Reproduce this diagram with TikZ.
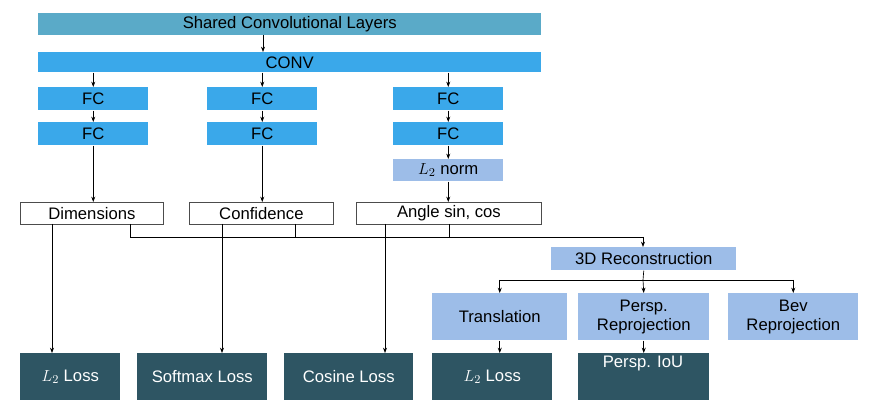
\documentclass[tikz,border=0pt]{standalone}
\usepackage{fontspec}
\setmainfont{Liberation Sans}
\usetikzlibrary{arrows.meta}
\definecolor{top}{HTML}{5AAAC8}
\definecolor{conv}{HTML}{3AA8EA}
\definecolor{lb}{HTML}{9DBDE8}
\definecolor{dk}{HTML}{2E5563}
\begin{document}
\begin{tikzpicture}[x=0.75pt,y=-0.75pt,
  bx/.style={draw=none,inner sep=0pt,font=\fontsize{12.5}{14}\selectfont,align=center},
  fc/.style={bx,fill=conv},
  wb/.style={bx,fill=white,draw=black!70,line width=0.6pt},
  lbx/.style={bx,fill=lb},
  dkb/.style={bx,fill=dk,text=white},
  ar/.style={-{Stealth[length=4pt,width=3pt]},line width=0.5pt},
  ln/.style={line width=0.5pt}]
\useasboundingbox (0,0) rectangle (875,420);
\fill[white] (0,0) rectangle (875,420);
\newcommand{\bx}[6]{\node[#1,minimum width=#4*0.75pt,minimum height=#5*0.75pt,anchor=north west] (#2) at (#3) {#6};}
\bx{bx,fill=top}{sh}{38,13}{503}{22}{Shared Convolutional Layers}
\bx{fc}{conv}{38,52}{503}{20}{CONV}
\bx{fc}{a1}{38,87}{110}{23}{FC}
\bx{fc}{a2}{38,122}{110}{23}{FC}
\bx{fc}{b1}{207,87}{110}{23}{FC}
\bx{fc}{b2}{207,122}{110}{23}{FC}
\bx{fc}{c1}{393,87}{110}{23}{FC}
\bx{fc}{c2}{393,122}{110}{23}{FC}
\bx{lbx}{nrm}{393,159}{110}{22}{$L_2$ norm}
\bx{wb}{dim}{20,202}{143}{22}{Dimensions}
\bx{wb}{conf}{189,202}{144}{22}{Confidence}
\bx{wb}{ang}{356,202}{185}{22}{Angle sin, cos}
\bx{lbx}{rec}{551,247}{185}{23}{3D Reconstruction}
\bx{lbx}{tr}{432,293}{135}{47}{Translation}
\bx{lbx}{pr}{578,293}{131}{47}{Persp.\\Reprojection}
\bx{lbx}{bev}{728,293}{130}{47}{Bev\\Reprojection}
\bx{dkb}{l1}{20,353}{100}{47}{$L_2$ Loss}
\bx{dkb}{l2}{137,353}{130}{47}{Softmax Loss}
\bx{dkb}{l3}{284,353}{129}{47}{Cosine Loss}
\bx{dkb}{l4}{432,353}{120}{47}{$L_2$ Loss}
\node[dkb,minimum width=131*0.75pt,minimum height=47*0.75pt,anchor=north west] (l5) at (578,353) {};
\node[bx,text=white,anchor=north] at (643,356) {Persp. IoU};
% connectors
\coordinate (t) at (263,35);
\draw[ar] (t) -- (t|-conv.north);
\draw[ar] (a1.north|-conv.south) -- (a1.north);
\draw[ar] (b1.north|-conv.south) -- (b1.north);
\draw[ar] (c1.north|-conv.south) -- (c1.north);
\draw[ar] (a1) -- (a2);
\draw[ar] (b1) -- (b2);
\draw[ar] (c1) -- (c2);
\draw[ar] (c2) -- (nrm);
\draw[ar] (nrm.south) -- (nrm.south|-ang.north);
\draw[ar] (a2.south) -- (a2.south|-dim.north);
\draw[ar] (b2.south) -- (b2.south|-conf.north);
\coordinate (j) at (643,237);
\draw[ln] (130,224) |- (j);
\draw[ln] (295,224) -- (295,237);
\draw[ln] (449,224) -- (449,237);
\draw[ar] (j) -- (j|-rec.north);
\draw[ar] (52,224) -- (52,353);
\draw[ar] (222,224) -- (222,353);
\draw[ar] (385,224) -- (385,353);
\coordinate (k) at (643,280);
\draw[ln] (rec.south) -- (k);
\draw[ln] (tr.north|-k) -- (bev.north|-k);
\draw[ar] (tr.north|-k) -- (tr.north);
\draw[ar] (k) -- (pr.north);
\draw[ar] (bev.north|-k) -- (bev.north);
\draw[ar] (tr.south) -- (tr.south|-l4.north);
\draw[ar] (pr.south) -- (pr.south|-l5.north);
\end{tikzpicture}
\end{document}
